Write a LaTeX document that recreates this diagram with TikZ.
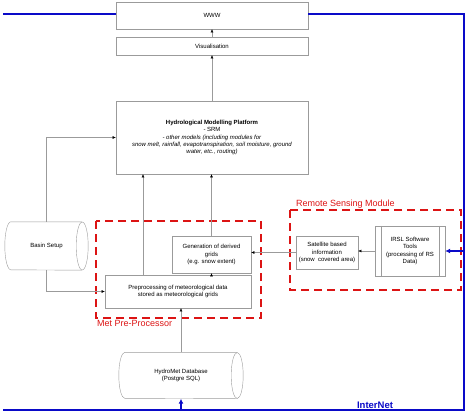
\documentclass[tikz,border=0pt]{standalone}
\usepackage{fontspec}
\setmainfont{Liberation Sans}
\usetikzlibrary{arrows.meta}

\definecolor{linegray}{RGB}{155,155,155}
\definecolor{netblue}{RGB}{10,10,200}
\definecolor{modred}{RGB}{220,20,20}

\tikzset{
    box/.style={draw=linegray, fill=white, align=center, inner sep=1pt,
        font=\fontsize{6}{7.4}\selectfont},
    drum/.style={align=center, inner sep=1pt, font=\fontsize{6}{7.4}\selectfont},
    flow/.style={draw=linegray, -{Latex[black,length=3.2pt,width=2.8pt]}},
    net/.style={draw=netblue, line width=2.3pt},
    netarrow/.style={draw=netblue, line width=1.2pt, -{Latex[netblue,length=5pt,width=5pt]}},
    module/.style={draw=modred, line width=1.8pt, dash pattern=on 8pt off 5pt},
    modlabel/.style={text=modred, font=\fontsize{9}{10}\selectfont, inner sep=0pt}
}

\begin{document}
\begin{tikzpicture}[x=1pt,y=-1pt]
    \useasboundingbox (0,0) rectangle (474,418);

    % internet ring
    \coordinate (nw) at (3,14);
    \coordinate (ne) at (464,14);
    \coordinate (se) at (464,410);
    \coordinate (sw) at (3,410);

    % modules (dashed)
    \draw[module] (96,221) rectangle (261,318);
    \draw[module] (290,210) rectangle (461,290);
    \node[modlabel, anchor=north west] (metlabel) at (97,320) {Met Pre-Processor};
    \node[modlabel, anchor=south west] (rslabel) at (296,208.5) {Remote Sensing Module};

    % boxes
    \node[box, minimum width=192pt, minimum height=27pt] (www) at (212,15.5) {WWW};
    \node[box, minimum width=192pt, minimum height=18pt] (vis) at (212,46) {Visualisation};
    \node[box, minimum width=192pt, minimum height=73pt] (hmp) at (212,137.5)
        {\textbf{Hydrological Modelling Platform}\\- SRM\\
        \textit{- other models (including modules for}\\
        \textit{snow melt, rainfall, evapotranspiration, soil moisture, ground}\\
        \textit{water, etc., routing)}};
    \node[box, minimum width=79pt, minimum height=37pt] (gen) at (211.5,254.5)
        {Generation of derived\\grids\\(e.g. snow extent)};
    \node[box, minimum width=146pt, minimum height=33pt] (pre) at (178,291.5)
        {Preprocessing of meteorological data\\stored as meteorological grids};
    \node[box, minimum width=62pt, minimum height=33pt] (sat) at (327,252.5)
        {Satellite based\\information\\(snow \ covered area)};
    \node[box, minimum width=70pt, minimum height=50pt] (irsl) at (410,251)
        {IRSL Software\\Tools\\(processing of RS\\Data)};
    \draw[linegray] ([xshift=6pt]irsl.north west) -- ([xshift=6pt]irsl.south west);
    \draw[linegray] ([xshift=-6pt]irsl.north east) -- ([xshift=-6pt]irsl.south east);

    % drums
    \node[drum, minimum width=83pt, minimum height=48pt] (basin) at (46.5,246) {Basin Setup};
    \draw[linegray] ([xshift=-6pt]basin.north east) -- ([xshift=6pt]basin.north west)
        arc[start angle=90, end angle=270, x radius=6pt, y radius=24pt]
        -- ([xshift=-6pt]basin.south east);
    \draw[linegray] ([xshift=-6pt]basin.east) ellipse[x radius=6pt, y radius=24pt];

    \node[drum, minimum width=124pt, minimum height=46pt] (db) at (181,375.5)
        {HydroMet Database\\(Postgre SQL)};
    \draw[linegray] ([xshift=-6pt]db.north east) -- ([xshift=6pt]db.north west)
        arc[start angle=90, end angle=270, x radius=6pt, y radius=23pt]
        -- ([xshift=-6pt]db.south east);
    \draw[linegray] ([xshift=-6pt]db.east) ellipse[x radius=6pt, y radius=23pt];

    % internet
    \draw[net] (www.west |- nw) -- (nw);
    \draw[net] (www.east |- ne) -- (ne) -- (se) -- (sw);
    \node[text=netblue, font=\bfseries\fontsize{9.5}{10}\selectfont, inner sep=0pt,
        anchor=base] (inet) at (375,408) {InterNet};
    \draw[netarrow] (irsl.east -| se) -- (irsl.east);
    \draw[netarrow] (db.south |- sw) -- (db.south);

    % flows
    \coordinate (x1) at (143,0);
    \draw[flow] (vis.north) -- (www.south);
    \draw[flow] (hmp.north) -- (vis.south);
    \draw[flow] (basin.north) |- (hmp.west);
    \draw[flow] (basin.south) |- (pre.west);
    \draw[flow] (pre.north -| x1) -- (hmp.south -| x1);
    \draw[flow] (gen.north) -- (gen.north |- hmp.south);
    \draw[flow] (gen.south |- pre.north) -- (gen.south);
    \draw[flow] (sat.west) -- (sat.west -| gen.east);
    \draw[flow] (irsl.west) -- (irsl.west -| sat.east);
    \draw[flow] (db.north) -- (db.north |- pre.south);

\end{tikzpicture}
\end{document}
